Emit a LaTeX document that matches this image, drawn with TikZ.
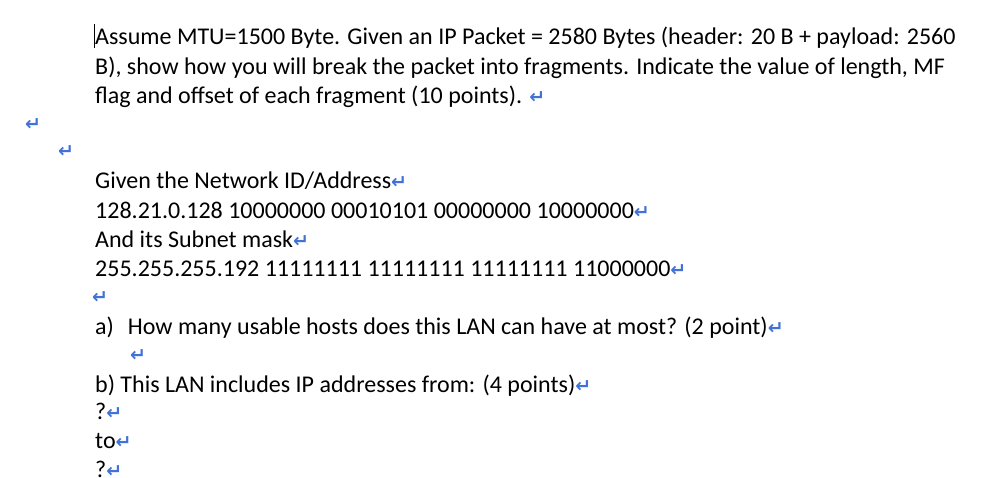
\documentclass[tikz,border=0pt]{standalone}
\usepackage{fontspec}
\setmainfont{Carlito}
\newfontfamily\arrowfont{DejaVu Sans Bold}
\definecolor{retblue}{RGB}{66,114,214}
\newcommand{\ret}{{\arrowfont\fontsize{19}{19}\selectfont\color{retblue}↵}}
\begin{document}
\begin{tikzpicture}[x=1pt,y=-1pt,
  txt/.style={anchor=base west,inner sep=0pt,font=\fontsize{24}{28}\selectfont}]
\useasboundingbox[fill=white] (0,0) rectangle (986,478);
\node[txt] (l1) at (95,45) {Assume MTU=1500 Byte. Given an IP Packet = 2580 Bytes (header: 20 B + payload: 2560};
\node[txt] (l2) at (95,75) {B), show how you will break the packet into fragments. Indicate the value of length, MF};
\node[txt] (l3) at (95,104) {flag and offset of each fragment (10 points). \ret};
\node[txt] (r1) at (25,131) {\ret};
\node[txt] (r2) at (58,158) {\ret};
\node[txt] (l4) at (95,189) {Given the Network ID/Address\ret};
\node[txt] (l5) at (95,219) {128.21.0.128 10000000 00010101 00000000 10000000\ret};
\node[txt] (l6) at (95,248) {And its Subnet mask\ret};
\node[txt] (l7) at (95,277) {255.255.255.192 11111111 11111111 11111111 11000000\ret};
\node[txt] (r3) at (92,304) {\ret};
\node[txt] (l8) at (95,335) {a)\hspace{14pt}How many usable hosts does this LAN can have at most? (2 point)\ret};
\node[txt] (r4) at (130,362) {\ret};
\node[txt] (l9) at (95,392) {b) This LAN includes IP addresses from: (4 points)\ret};
\node[txt] (l10) at (95,420) {?\ret};
\node[txt] (l11) at (95,449) {to\ret};
\node[txt] (l12) at (95,477) {?\ret};
\draw[line width=0.8pt] (94,24) -- (94,48);
\end{tikzpicture}
\end{document}
